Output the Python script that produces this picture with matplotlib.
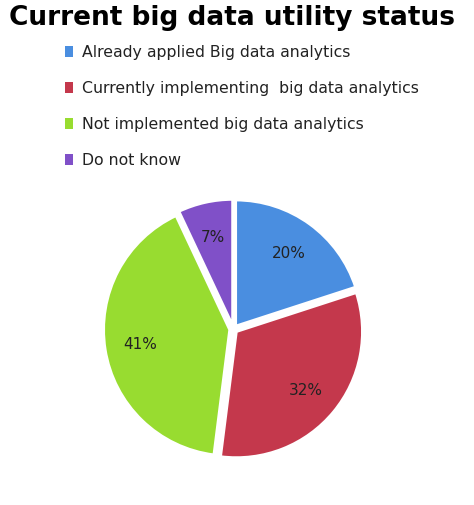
import matplotlib
matplotlib.use("Agg")
import matplotlib.pyplot as plt
from matplotlib.patches import Rectangle

labels = ["Already applied Big data analytics", "Currently implementing  big data analytics",
          "Not implemented big data analytics", "Do not know"]
values = [20, 32, 41, 7]
colors = ["#4a8ee0", "#c4384c", "#98dc30", "#8050c8"]

fig = plt.figure(figsize=(4.74, 5.06), dpi=100)
fig.text(0.02, 0.99, "Current big data utility status", fontsize=19, fontweight="bold",
         va="top", ha="left", family="DejaVu Sans")
for i, (lab, c) in enumerate(zip(labels, colors)):
    y = 0.897 - i * 0.0715
    fig.patches.append(Rectangle((0.138, y - 0.011), 0.017, 0.022, transform=fig.transFigure,
                                 facecolor=c, edgecolor="none"))
    fig.text(0.172, y, lab, fontsize=11.3, va="center", ha="left", color="#222222")

ax = fig.add_axes([0.16, 0.035, 0.665, 0.625])
ax.pie(values, colors=colors, startangle=90, counterclock=False,
       explode=[0.03] * 4, autopct="%d%%", pctdistance=0.72,
       wedgeprops=dict(edgecolor="white", linewidth=2),
       textprops=dict(fontsize=11, color="#222222"))
ax.set_aspect("equal")
fig.savefig("out.png", dpi=100)
